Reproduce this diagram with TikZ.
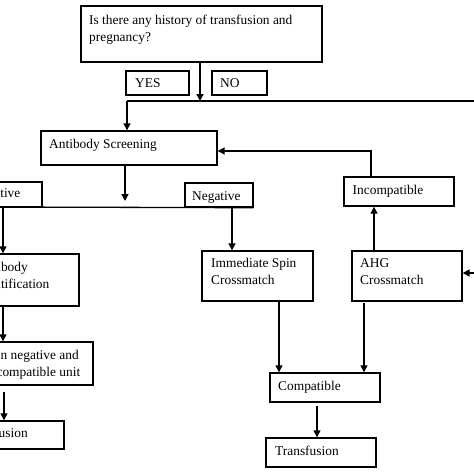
\documentclass[tikz,border=0pt]{standalone}
\usepackage{fontspec}
\setmainfont{Liberation Serif}
\usetikzlibrary{arrows.meta}
\begin{document}
\begin{tikzpicture}[x=1pt,y=-1pt,
 box/.style={draw, line width=1.4pt, inner sep=0pt},
 txt/.style={inner sep=0pt, anchor=base west, font=\fontsize{13.4}{17}\selectfont},
 conn/.style={line width=1.3pt},
 arr/.style={conn, -{Triangle[length=7pt,width=7pt]}}]
\clip (0,0) rectangle (474,474);
\fill[white] (0,0) rectangle (474,474);
% boxes
\node[box, minimum width=241pt, minimum height=56pt] (q) at (201.5,34) {};
\node[box, minimum width=63pt, minimum height=24pt] (yes) at (157.5,83) {};
\node[box, minimum width=55pt, minimum height=24pt] (no) at (239.5,83) {};
\node[box, minimum width=176pt, minimum height=34pt] (abs) at (129,148) {};
\node[box, minimum width=92pt, minimum height=25pt] (pos) at (-4,194.5) {};
\node[box, minimum width=68pt, minimum height=24pt] (neg) at (219,195) {};
\node[box, minimum width=110pt, minimum height=29pt] (inc) at (399,191.5) {};
\node[box, minimum width=139pt, minimum height=52pt] (aid) at (9.5,280) {};
\node[box, minimum width=173pt, minimum height=43pt] (ant) at (6.5,363.5) {};
\node[box, minimum width=124pt, minimum height=28pt] (tr1) at (2,435) {};
\node[box, minimum width=111pt, minimum height=50pt] (isc) at (257.5,276) {};
\node[box, minimum width=110pt, minimum height=50pt] (ahg) at (407,276) {};
\node[box, minimum width=110pt, minimum height=29pt] (comp) at (325,387.5) {};
\node[box, minimum width=110pt, minimum height=29pt] (tr2) at (321,452.5) {};
% texts
\node[txt] (tq1) at (89,24) {Is there any history of transfusion and};
\node[txt] (tq2) at (89,41) {pregnancy?};
\node[txt] (tyes) at (135,87.5) {YES};
\node[txt] (tno) at (220,87.5) {NO};
\node[txt] (tabs) at (49,148) {Antibody Screening};
\node[txt] (tpos) at (-23,197) {Positive};
\node[txt] (tneg) at (192,200) {Negative};
\node[txt] (tinc) at (352.5,194) {Incompatible};
\node[txt] (taid1) at (-23,271) {Antibody};
\node[txt] (taid2) at (-23,288) {Identification};
\node[txt] (tant1) at (-36,359) {Antigen negative and};
\node[txt] (tant2) at (-36,376) {AHG compatible unit};
\node[txt] (ttr1) at (-36,437) {Transfusion};
\node[txt] (tisc1) at (211,267) {Immediate Spin};
\node[txt] (tisc2) at (211,284) {Crossmatch};
\node[txt] (tahg1) at (360,267) {AHG};
\node[txt] (tahg2) at (360,284) {Crossmatch};
\node[txt] (tcomp) at (278,390) {Compatible};
\node[txt] (ttr2) at (275,455) {Transfusion};
% connectors
\coordinate (j1) at (200,101);
\coordinate (h1l) at (127,101);
\coordinate (h1r) at (480,101);
\coordinate (j2) at (125,201);
\coordinate (h2l) at (-10,207);
\coordinate (p1) at (3,207);
\coordinate (p2) at (4,392);
\coordinate (n1) at (232,207);
\coordinate (c1) at (279,0);
\coordinate (c2) at (364,303);
\coordinate (c3) at (317,406);
\coordinate (c4) at (374,0);
\coordinate (c5) at (371,151);
\coordinate (r1) at (480,273);
\draw[arr] (q.south -| j1) -- (j1);
\draw[conn] (h1l) -- (h1r);
\draw[arr] (h1l) -- (h1l |- abs.north);
\draw[arr] (abs.south -| j2) -- (j2);
\draw[conn] (h2l) -- (neg.south east);
\draw[arr] (p1) -- (p1 |- aid.north);
\draw[arr] (aid.south -| p1) -- (p1 |- ant.north);
\draw[arr] (p2) -- (p2 |- tr1.north);
\draw[arr] (n1) -- (n1 |- isc.north);
\draw[arr] (isc.south -| c1) -- (comp.north -| c1);
\draw[arr] (c2) -- (c2 |- comp.north);
\draw[arr] (c3) -- (c3 |- tr2.north);
\draw[arr] (ahg.north -| c4) -- (inc.south -| c4);
\draw[arr] (inc.north -| c5) -- (c5) -- (c5 -| abs.east);
\draw[arr] (r1) -- (r1 -| ahg.east);
\end{tikzpicture}
\end{document}
